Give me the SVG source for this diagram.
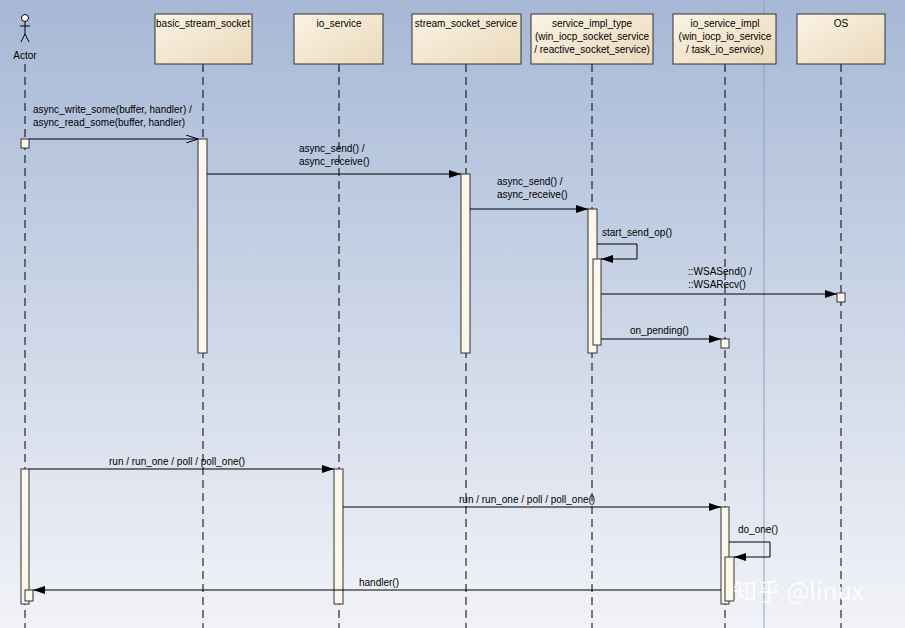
<svg xmlns="http://www.w3.org/2000/svg" width="905" height="628" viewBox="0 0 905 628">
<defs>
<linearGradient id="bg" x1="0" y1="0" x2="0" y2="1"><stop offset="0" stop-color="#a6b8d6"/><stop offset="1" stop-color="#f2f3f8"/></linearGradient>
<linearGradient id="box" x1="0" y1="0" x2="1" y2="1"><stop offset="0" stop-color="#fbf3e4"/><stop offset="1" stop-color="#ead9bb"/></linearGradient>
<marker id="f" markerWidth="12" markerHeight="8" refX="12" refY="4" orient="auto" markerUnits="userSpaceOnUse"><path d="M0,0 L12,4 L0,8 Z" fill="#000"/></marker>
<marker id="o" markerWidth="12" markerHeight="8" refX="12" refY="4" orient="auto" markerUnits="userSpaceOnUse"><path d="M0,0 L12,4 L0,8" fill="none" stroke="#000"/></marker>
</defs>
<style>
text{font-family:"Liberation Sans",Arial,sans-serif;font-size:10px;fill:#000}
.hd{fill:url(#box);stroke:#333;stroke-width:1}
.ll{stroke:#000;stroke-dasharray:8,5;fill:none}
.act{fill:#fdf6ea;stroke:#333;stroke-width:1}
.m{stroke:#000;fill:none;stroke-width:1}
</style>
<rect width="905" height="628" fill="url(#bg)"/>
<line x1="764" y1="0" x2="764" y2="628" stroke="#8f9fc6" stroke-width="1"/>
<g id="lifelines">
<line class="ll" x1="25" y1="64" x2="25" y2="628"/>
<line class="ll" x1="203" y1="64" x2="203" y2="628"/>
<line class="ll" x1="339" y1="64" x2="339" y2="628"/>
<line class="ll" x1="466" y1="64" x2="466" y2="628"/>
<line class="ll" x1="592" y1="64" x2="592" y2="628"/>
<line class="ll" x1="725" y1="64" x2="725" y2="628"/>
<line class="ll" x1="841" y1="64" x2="841" y2="628"/>
</g>
<g id="actor">
<circle cx="25" cy="18" r="3.5" fill="#fff" stroke="#000"/>
<path d="M25,22 V34 M20,26 H30 M25,34 L21,42 M25,34 L29,42" stroke="#000" fill="none"/>
<text x="25" y="59" text-anchor="middle">Actor</text>
</g>
<g id="basic_stream_socket"><rect class="hd" x="155" y="14" width="97" height="50"/><text x="203" y="27" text-anchor="middle">basic_stream_socket</text></g>
<g id="io_service"><rect class="hd" x="294" y="14" width="89" height="50"/><text x="339" y="27" text-anchor="middle">io_service</text></g>
<g id="stream_socket_service"><rect class="hd" x="412" y="14" width="109" height="50"/><text x="466" y="27" text-anchor="middle">stream_socket_service</text></g>
<g id="service_impl_type"><rect class="hd" x="531" y="14" width="122" height="50"/><text x="592" y="27" text-anchor="middle">service_impl_type</text><text x="592" y="40" text-anchor="middle">(win_iocp_socket_service</text><text x="592" y="53" text-anchor="middle">/ reactive_socket_service)</text></g>
<g id="io_service_impl"><rect class="hd" x="673" y="14" width="103" height="50"/><text x="725" y="27" text-anchor="middle">io_service_impl</text><text x="725" y="40" text-anchor="middle">(win_iocp_io_service</text><text x="725" y="53" text-anchor="middle">/ task_io_service)</text></g>
<g id="OS"><rect class="hd" x="797" y="14" width="88" height="50"/><text x="841" y="27" text-anchor="middle">OS</text></g>
<g id="activations">
<rect class="act" x="21" y="139" width="8" height="9"/>
<rect class="act" x="198" y="139" width="9" height="214"/>
<rect class="act" x="461" y="174" width="9" height="179"/>
<rect class="act" x="588" y="209" width="9" height="144"/>
<rect class="act" x="593" y="259" width="8" height="86"/>
<rect class="act" x="721" y="339" width="8" height="9"/>
<rect class="act" x="837" y="293" width="8" height="9"/>
<rect class="act" x="21" y="469" width="8" height="135"/>
<rect class="act" x="25" y="590" width="8" height="11"/>
<rect class="act" x="334" y="469" width="9" height="135"/>
<rect class="act" x="721" y="507" width="8" height="97"/>
<rect class="act" x="725" y="557" width="9" height="44"/>
</g>
<g id="connectors">
<line class="m" x1="29" y1="139" x2="198" y2="139" marker-end="url(#o)"/>
<line class="m" x1="207" y1="174" x2="461" y2="174" marker-end="url(#f)"/>
<line class="m" x1="470" y1="209" x2="588" y2="209" marker-end="url(#f)"/>
<path class="m" d="M597,244 H637 V259 H601" marker-end="url(#f)"/>
<line class="m" x1="601" y1="294" x2="837" y2="294" marker-end="url(#f)"/>
<line class="m" x1="601" y1="339" x2="721" y2="339" marker-end="url(#f)"/>
<line class="m" x1="29" y1="469" x2="334" y2="469" marker-end="url(#f)"/>
<line class="m" x1="343" y1="507" x2="721" y2="507" marker-end="url(#f)"/>
<path class="m" d="M729,542 H770 V557 H734" marker-end="url(#f)"/>
<line class="m" x1="721" y1="590" x2="33" y2="590" marker-end="url(#f)"/>
</g>
<g id="labels">
<text x="33" y="113">async_write_some(buffer, handler) /</text>
<text x="33" y="126">async_read_some(buffer, handler)</text>
<text x="299" y="152">async_send() /</text>
<text x="299" y="165">async_receive()</text>
<text x="497" y="185">async_send() /</text>
<text x="497" y="198">async_receive()</text>
<text x="602" y="236">start_send_op()</text>
<text x="688" y="275">::WSASend() /</text>
<text x="688" y="288">::WSARecv()</text>
<text x="630" y="334">on_pending()</text>
<text x="109" y="465">run / run_one / poll / poll_one()</text>
<text x="459" y="503">run / run_one / poll / poll_one()</text>
<text x="738" y="533">do_one()</text>
<text x="359" y="586">handler()</text>
</g>
<text x="733" y="600" style="font-family:'Noto Sans CJK SC','Liberation Sans',sans-serif;font-size:24px;fill:#ffffff;fill-opacity:0.85">知乎 @linux</text>
</svg>
